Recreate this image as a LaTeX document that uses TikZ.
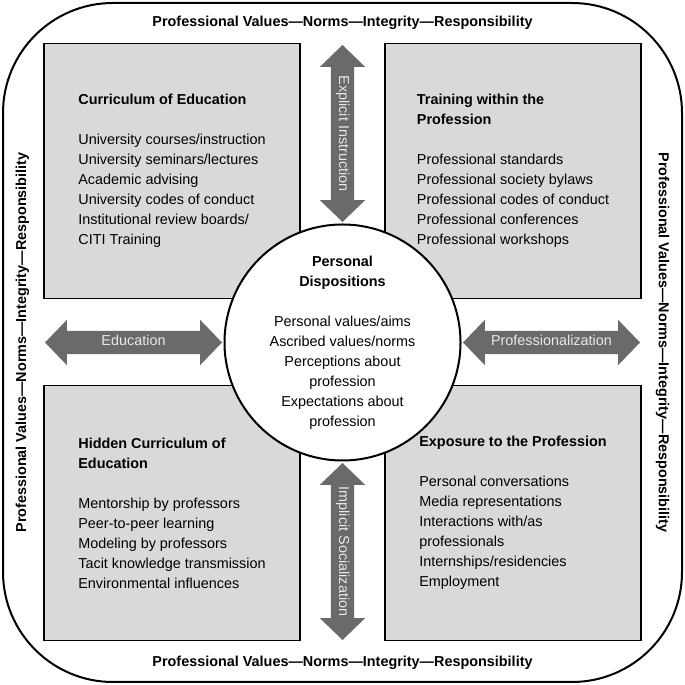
\documentclass[tikz,border=0pt]{standalone}
\usepackage{fontspec}
\setmainfont{Liberation Sans}
\usepackage{color}
\definecolor{myboxgray}{RGB}{217,217,217}
\definecolor{myarrowgray}{RGB}{106,106,106}
\definecolor{myarrowtext}{RGB}{232,232,232}
\usetikzlibrary{shapes.arrows,shapes.geometric,positioning}
\tikzstyle{quadrant}=[draw,line width=1.9pt,fill=myboxgray,minimum width=256pt,minimum height=255pt,inner sep=0pt,align=left]

\begin{document}
\begin{tikzpicture}[
  x=1pt,y=1pt,
  font=\fontsize{14.4pt}{20pt}\selectfont,
  myframe/.style={
    draw,
    line width=2pt,
    rounded corners=110pt,
    minimum size=679pt,
    inner sep=0pt
    },
  myarrow/.style={
    double arrow,
    fill=myarrowgray,
    text=myarrowtext,
    double arrow head extend=11pt,
    double arrow tip angle=92,
    inner xsep=0pt,
    inner ysep=5pt,
    text height=10pt,
    text depth=3pt,
    minimum height=177pt
    },
  disposition/.style={
    draw,
    circle,
    line width=2pt,
    fill=white,
    minimum size=236pt,
    inner sep=0pt,
    align=center
    },
  values/.style={font=\fontsize{14.4pt}{20pt}\selectfont\bfseries}
]
\useasboundingbox (0,0) rectangle (685,685);
\node [myframe] (border) at (342.5,342.5) {};

% the four quadrants
\node [quadrant] (curr) at (172,514) {\textbf{Curriculum of Education}\\[20pt]
  University courses/instruction\\
  University seminars/lectures\\
  Academic advising\\
  University codes of conduct\\
  Institutional review boards/\\
  CITI Training};
\node [quadrant] (train) at (513,514) {\textbf{Training within the}\\
  \textbf{Profession}\\[20pt]
  Professional standards\\
  Professional society bylaws\\
  Professional codes of conduct\\
  Professional conferences\\
  Professional workshops};
\node [quadrant] (hidden) at (172,172) {\textbf{Hidden Curriculum of}\\
  \textbf{Education}\\[20pt]
  Mentorship by professors\\
  Peer-to-peer learning\\
  Modeling by professors\\
  Tacit knowledge transmission\\
  Environmental influences};
\node [quadrant] (expo) at (513,172) {\textbf{Exposure to the Profession}\\[20pt]
  Personal conversations\\
  Media representations\\
  Interactions with/as\\
  professionals\\
  Internships/residencies\\
  Employment};

% arrows between the quadrants
\node [myarrow, rotate=-90] (explicit) at (342.5,551.5) {Explicit Instruction};
\node [myarrow, rotate=-90] (implicit) at (342.5,133.5) {Implicit Socialization};
\node [myarrow] (educ) at (133.5,342.5) {Education};
\node [myarrow] (prof) at (551.5,342.5) {Professionalization};

% centre
\node [disposition] (pers) at (342.5,342.5) {\textbf{Personal}\\
  \textbf{Dispositions}\\[20pt]
  Personal values/aims\\
  Ascribed values/norms\\
  Perceptions about\\
  profession\\
  Expectations about\\
  profession};

% labels along the frame
\node [values] (vtop) at (342.5,662.5) {Professional Values---Norms---Integrity---Responsibility};
\node [values] (vbot) at (342.5,22.5) {Professional Values---Norms---Integrity---Responsibility};
\node [values, rotate=90] (vleft) at (22.5,342.5) {Professional Values---Norms---Integrity---Responsibility};
\node [values, rotate=-90] (vright) at (662.5,342.5) {Professional Values---Norms---Integrity---Responsibility};

\end{tikzpicture}
\end{document}
